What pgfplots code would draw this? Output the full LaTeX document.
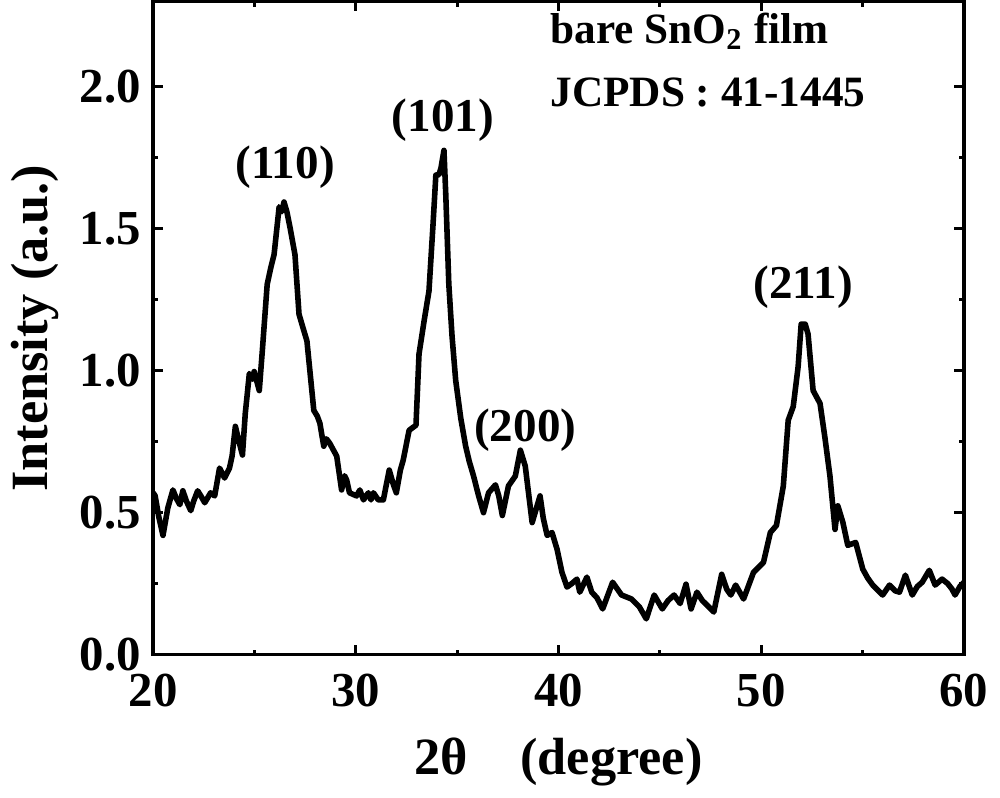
\documentclass[border=0pt]{standalone}
\usepackage{fontspec}
\setmainfont{Liberation Serif}
\usepackage{pgfplots}
\pgfplotsset{compat=1.18}

\pgfplotstableread{
x y
20.00 0.570
20.10 0.560
20.29 0.483
20.49 0.420
20.73 0.517
20.98 0.580
21.15 0.550
21.32 0.528
21.47 0.577
21.65 0.540
21.86 0.507
22.00 0.540
22.20 0.577
22.35 0.560
22.55 0.535
22.84 0.570
23.04 0.559
23.28 0.657
23.53 0.622
23.77 0.657
23.90 0.700
24.06 0.804
24.26 0.745
24.41 0.703
24.55 0.850
24.75 0.990
24.90 0.970
24.99 0.997
25.24 0.930
25.39 1.070
25.63 1.304
25.80 1.360
25.97 1.409
26.22 1.577
26.35 1.560
26.46 1.594
26.60 1.560
26.76 1.503
27.00 1.409
27.20 1.199
27.40 1.150
27.59 1.105
27.93 0.860
28.10 0.840
28.23 0.815
28.42 0.734
28.55 0.760
28.71 0.745
29.06 0.699
29.30 0.580
29.45 0.630
29.55 0.615
29.69 0.570
30.04 0.559
30.20 0.580
30.38 0.545
30.62 0.570
30.75 0.545
30.87 0.570
31.11 0.545
31.36 0.545
31.65 0.650
31.85 0.600
32.00 0.570
32.20 0.650
32.34 0.685
32.63 0.790
32.97 0.808
33.12 1.059
33.37 1.175
33.61 1.280
33.81 1.514
33.95 1.689
34.10 1.690
34.20 1.713
34.35 1.776
34.44 1.619
34.59 1.304
34.75 1.120
34.93 0.965
35.18 0.832
35.42 0.734
35.60 0.680
35.81 0.629
36.06 0.559
36.30 0.500
36.55 0.570
36.89 0.598
37.05 0.560
37.23 0.490
37.53 0.594
37.87 0.629
38.12 0.720
38.36 0.664
38.70 0.465
39.09 0.559
39.25 0.480
39.44 0.420
39.68 0.430
39.93 0.371
40.17 0.290
40.42 0.238
40.65 0.250
40.91 0.266
41.05 0.220
41.40 0.273
41.64 0.220
41.90 0.200
42.18 0.161
42.67 0.255
43.11 0.210
43.60 0.196
43.99 0.168
44.33 0.126
44.72 0.210
45.12 0.161
45.40 0.190
45.70 0.210
46.00 0.180
46.29 0.248
46.54 0.161
46.83 0.220
47.10 0.190
47.32 0.175
47.66 0.150
48.05 0.283
48.30 0.230
48.50 0.210
48.74 0.245
49.13 0.196
49.62 0.290
50.11 0.325
50.45 0.430
50.75 0.455
51.09 0.594
51.33 0.825
51.58 0.874
51.82 1.014
51.97 1.164
52.17 1.164
52.31 1.129
52.56 0.930
52.90 0.885
53.15 0.760
53.39 0.629
53.64 0.441
53.78 0.524
54.03 0.465
54.27 0.385
54.66 0.395
55.01 0.301
55.25 0.270
55.50 0.245
55.99 0.210
56.33 0.245
56.60 0.225
56.82 0.220
57.11 0.280
57.45 0.210
57.70 0.240
57.94 0.255
58.29 0.297
58.58 0.245
58.92 0.266
59.20 0.250
59.41 0.231
59.56 0.210
59.80 0.240
60.00 0.255
}\xrd

\begin{document}
\begin{tikzpicture}
\begin{axis}[
    scale only axis,
    width=8.17cm, height=6.58cm,
    xmin=20, xmax=60, ymin=0, ymax=2.3,
    xtick={20,30,...,60},
    ytick={0,0.5,...,2.0},
    minor x tick num=1, minor y tick num=1,
    tick align=inside,
    major tick length=0.1cm, minor tick length=0.05cm,
    every tick/.style={black, line width=0.9pt},
    axis line style={line width=0.9pt},
    /pgf/number format/assume math mode=true,
    yticklabel style={/pgf/number format/.cd, fixed, fixed zerofill, precision=1},
    tick label style={font=\fontsize{14}{16}\selectfont\bfseries},
    xticklabel style={yshift=-2pt},
    label style={font=\fontsize{15}{17}\selectfont\bfseries},
    xlabel={2θ\quad(degree)},
    ylabel={Intensity (a.u.)},
    ylabel style={yshift=-1pt},
    xlabel style={yshift=-2pt},
]
\addplot[black, line width=1.6pt, line join=round] table[x=x, y=y] {\xrd};
\node[font=\fontsize{13.5}{15}\selectfont\bfseries] at (axis cs:26.51,1.717) {(110)};
\node[font=\fontsize{13.5}{15}\selectfont\bfseries] at (axis cs:34.30,1.881) {(101)};
\node[font=\fontsize{13.5}{15}\selectfont\bfseries] at (axis cs:38.36,0.790) {(200)};
\node[font=\fontsize{13.5}{15}\selectfont\bfseries] at (axis cs:52.07,1.294) {(211)};
\node[anchor=west, font=\fontsize{12.4}{14}\selectfont\bfseries] at (axis cs:39.0,2.196) {bare SnO$_{\mathbf{2}}$ film};
\node[anchor=west, font=\fontsize{12.4}{14}\selectfont\bfseries] at (axis cs:39.0,1.979) {JCPDS : 41-1445};
\end{axis}
\end{tikzpicture}
\end{document}
